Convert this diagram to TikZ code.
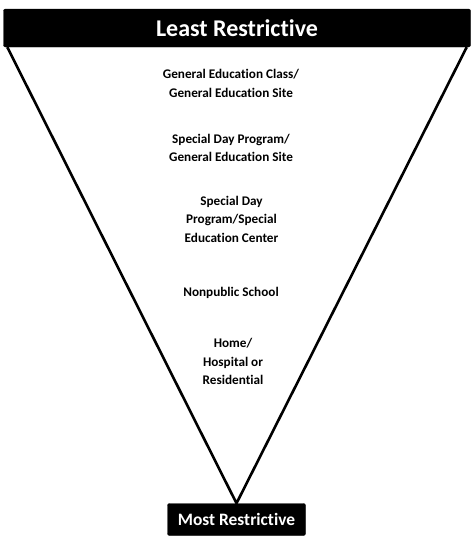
\documentclass[tikz,border=0pt]{standalone}
\usepackage{fontspec}
\setmainfont[Ligatures=NoCommon]{Carlito}
\usetikzlibrary{positioning, calc}

\begin{document}
\begin{tikzpicture}[x=1pt, y=-1pt,
    banner/.style={draw=black, fill=black, text=white, rounded corners=2pt, inner sep=0pt},
    level/.style={align=center, font=\fontsize{13.2}{18.5}\selectfont\bfseries}]
            \useasboundingbox (0,0) rectangle (474,541);
            % Banners
            \node[banner, minimum width=467pt, minimum height=38pt, font=\fontsize{24}{28}\selectfont\bfseries] (least) at (237,28) {Least Restrictive};
            \node[banner, minimum width=138pt, minimum height=32pt, font=\fontsize{17.4}{20}\selectfont\bfseries] (most) at (236.5,519.5) {Most Restrictive};

            % Funnel
            \coordinate (tipL) at ($(least.south west)+(4pt,0)$);
            \coordinate (tipR) at ($(least.south east)+(-4pt,0)$);
            \draw[line width=2.6pt, line join=miter] (tipL) -- (most.north) -- (tipR);

            % Levels
            \node[level] (general) at (231,83.5) {General Education Class/\\General Education Site};
            \node[level] (sdpgen) at (231,148) {Special Day Program/\\General Education Site};
            \node[level] (sdpspec) at (231.5,219) {Special Day\\Program/Special\\Education Center};
            \node[level] (nonpublic) at (231,293) {Nonpublic School};
            \node[level] (home) at (233,361.5) {Home/\\Hospital or\\Residential};
        \end{tikzpicture}
\end{document}
